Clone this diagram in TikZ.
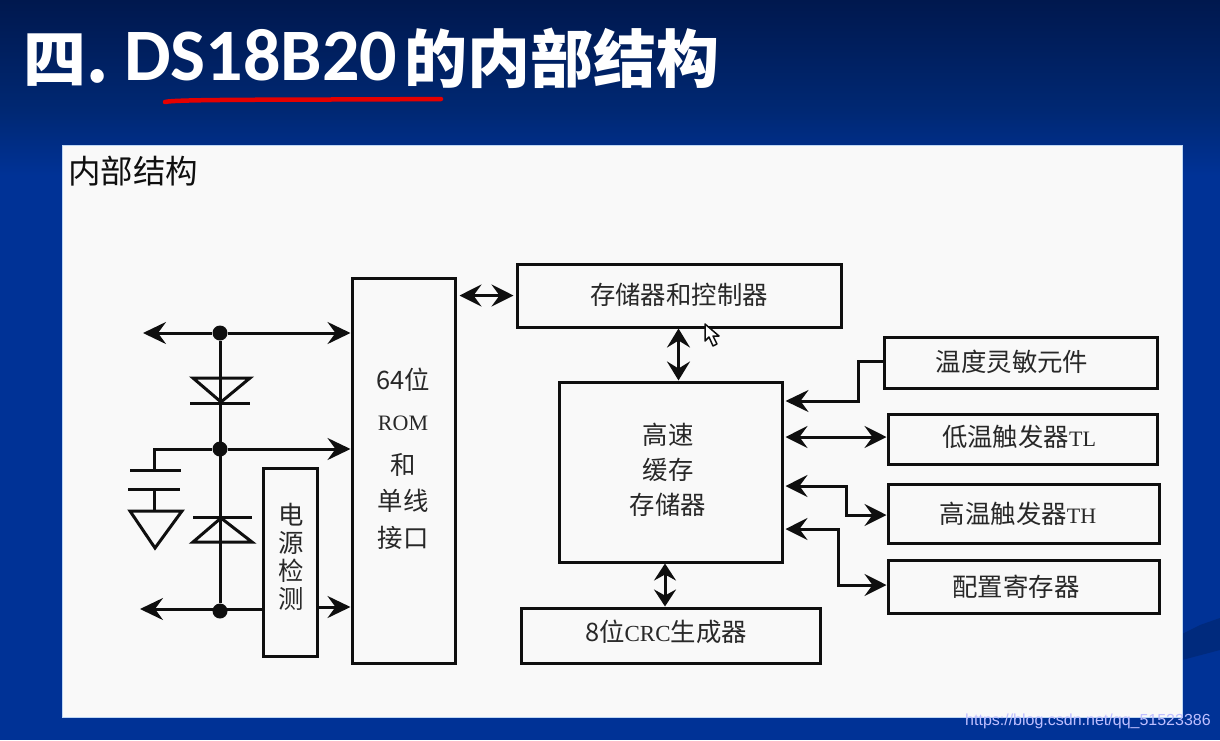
\documentclass[tikz,border=0pt]{standalone}
\usepackage{fontspec}
\setmainfont{Noto Sans CJK SC}
\newfontfamily\wm{Liberation Sans}
\newfontfamily\titlelat{Carlito}
\newfontfamily\lat{Liberation Serif}
\usetikzlibrary{arrows.meta,calc}
\definecolor{bgtop}{RGB}{0,24,78}
\definecolor{bgmid}{RGB}{0,40,115}
\definecolor{bgbot}{RGB}{0,50,150}
\definecolor{swoosh}{RGB}{0,42,125}
\definecolor{panel}{RGB}{249,249,249}
\definecolor{edge}{RGB}{190,215,245}
\definecolor{ink}{RGB}{15,15,15}
\definecolor{txt}{RGB}{40,40,40}
\tikzset{
  blk/.style={draw=ink,line width=3pt,fill=panel,inner sep=0pt},
  lbl/.style={text=txt,inner sep=0pt,font=\fontsize{25.4}{30}\selectfont,align=center},
  wire/.style={draw=ink,line width=3pt,line join=miter},
  arr/.style={wire,-{Stealth[length=23pt,width=22pt,inset=8pt]}},
  rra/.style={wire,{Stealth[length=23pt,width=22pt,inset=8pt]}-},
  dbl/.style={wire,{Stealth[length=22pt,width=22pt,inset=8pt]}-{Stealth[length=22pt,width=22pt,inset=8pt]}},
  dblv/.style={wire,{Stealth[length=19pt,width=23pt,inset=7pt]}-{Stealth[length=19pt,width=23pt,inset=7pt]}},
  dbls/.style={wire,{Stealth[length=17pt,width=22pt,inset=6pt]}-{Stealth[length=17pt,width=22pt,inset=6pt]}},
  dot/.style={circle,fill=ink,minimum size=15pt,inner sep=0pt},
  comp/.style={draw=ink,line width=3pt,line join=miter},
  ttl/.style={anchor=base west,text=white,inner sep=0pt,font=\bfseries\fontsize{63}{70}\selectfont},
}
\begin{document}
\begin{tikzpicture}[x=1pt,y=-1pt]
\useasboundingbox (0,0) rectangle (1220,740);
\fill[top color=bgtop,bottom color=bgmid] (0,0) rectangle (1220,110);
\fill[top color=bgmid,bottom color=bgbot] (0,110) rectangle (1220,175);
\fill[bgbot] (0,175) rectangle (1220,740);
\fill[swoosh] (1182,634) -- (1200,625) -- (1220,618) -- (1220,650) -- (1182,660) -- cycle;
\fill[panel,draw=edge,line width=1pt] (62,145) rectangle (1182,717);
\node[ttl] (t1) at (23,82) {四.};
\node[ttl,font=\titlelat\bfseries\fontsize{74}{80}\selectfont] (t2) at (124,80) {DS18B20};
\node[ttl] (t3) at (404,82) {的内部结构};
\coordinate (ula) at (165,102);
\coordinate (ulb) at (441,99);
\draw[red!90!black,line width=4.5pt,line cap=round] (ula) .. controls (175,99) and (300,100) .. (ulb);
\node[anchor=west,text=ink,font=\fontsize{32.5}{38}\selectfont,inner sep=0pt] (head) at (68,171) {内部结构};
% blocks
\node[blk,minimum width=103pt,minimum height=385pt] (rom) at (403.5,470.5) {};
\node[lbl] (romt1) at (403,380) {64位};
\node[lbl,font=\lat\fontsize{22}{28}\selectfont] (romt2) at (403,423) {ROM};
\node[lbl] (romt3) at (403,465) {和};
\node[lbl] (romt4) at (403,501) {单线};
\node[lbl] (romt5) at (403,538) {接口};
\node[blk,minimum width=324pt,minimum height=63pt] (mem) at (679,295.5) {};
\node[lbl] (memt) at (679,295) {存储器和控制器};
\node[blk,minimum width=223pt,minimum height=180pt] (cache) at (670.5,472) {};
\node[lbl] (ca1) at (668,435) {高速};
\node[lbl] (ca2) at (668,470) {缓存};
\node[lbl] (ca3) at (668,505) {存储器};
\node[blk,minimum width=299pt,minimum height=55pt] (crc) at (670.5,635.5) {};
\node[lbl] (crct) at (666,632) {8位{\lat\fontsize{23}{28}\selectfont CRC}生成器};
\node[blk,minimum width=54pt,minimum height=188pt] (pwr) at (290,562) {};
\node[lbl] (pw1) at (291,515) {电};
\node[lbl] (pw2) at (291,543) {源};
\node[lbl] (pw3) at (291,571) {检};
\node[lbl] (pw4) at (291,599) {测};
\node[blk,minimum width=273pt,minimum height=51pt] (temp) at (1020.5,362.5) {};
\node[lbl] (tempt) at (1012,362) {温度灵敏元件};
\node[blk,minimum width=269pt,minimum height=50pt] (low) at (1022.5,439) {};
\node[lbl] (lowt) at (1019,437) {低温触发器{\lat\fontsize{22}{28}\selectfont TL}};
\node[blk,minimum width=271pt,minimum height=59pt] (high) at (1023.5,513.5) {};
\node[lbl] (hight) at (1018,514) {高温触发器{\lat\fontsize{22}{28}\selectfont TH}};
\node[blk,minimum width=271pt,minimum height=53pt] (cfg) at (1023.5,586.5) {};
\node[lbl] (cfgt) at (1016,587) {配置寄存器};
% junctions
\node[dot] (j1) at (220,333) {};
\node[dot] (j2) at (220,449) {};
\node[dot] (j3) at (220,611) {};
\coordinate (tl) at (143,333);
\coordinate (bl) at (140,609);
% connectors
\draw[arr] (j1) -- (j1 -| tl);
\draw[arr] (j1) -- (j1 -| rom.west);
\draw[arr] (j2) -- (j2 -| rom.west);
\draw[wire] (j1) -- (j3);
\draw[arr] (pwr.west |- bl) -- (bl);
\coordinate (pr) at (317,607);
\draw[arr] (pr) -- (pr -| rom.west);
\draw[dbl] ($(rom.east |- mem.west)+(3,0)$) -- ($(mem.west)+(-2,0)$);
\draw[dblv] ($(mem.south west)+(163,0)$) -- ($(cache.north west)+(121,0)$);
\draw[dbls] ($(cache.south west)+(107.5,0)$) -- ($(crc.north west)+(145.5,0)$);
\draw[rra] ($(cache.east)+(2,-71)$) -| (858,361) -- (temp.west |- 858,361);
\draw[dbl] ($(cache.east)+(2,-35)$) -- (low.west |- 785,437);
\draw[dbl] ($(cache.east)+(2,14)$) -- (846,486) -- (846,515) -- (high.west |- 846,515);
\draw[dbl] ($(cache.east)+(2,57)$) -- (838,529) -- (838,585) -- (cfg.west |- 838,585);
% diodes, capacitor, ground
\draw[comp] (193,378) -- (250,378) -- (221,402) -- cycle;
\draw[comp] (190,403) -- (250,403);
\draw[comp] (193,517) -- (252,517);
\draw[comp] (193,542) -- (252,542) -- (221,518) -- cycle;
\draw[comp] (j2) -- (154,449) -- (154,470);
\draw[comp] (130,470) -- (181,470);
\draw[comp] (128,489) -- (180,489);
\draw[comp] (154,489) -- (154,511);
\draw[comp] (130,511) -- (182,511) -- (155,548) -- cycle;
% cursor
\draw[ink,fill=white,line width=1.5pt,line join=round] (705,324) -- (705,341) -- (709,337) -- (713,346) -- (717,344) -- (713,336) -- (719,336) -- cycle;
% watermark
\node[anchor=west,inner sep=0pt,text=white!75!blue,font=\wm\fontsize{16}{20}\selectfont] (wmk) at (965,721) {https://blog.csdn.net/qq\_51523386};
\end{tikzpicture}
\end{document}
